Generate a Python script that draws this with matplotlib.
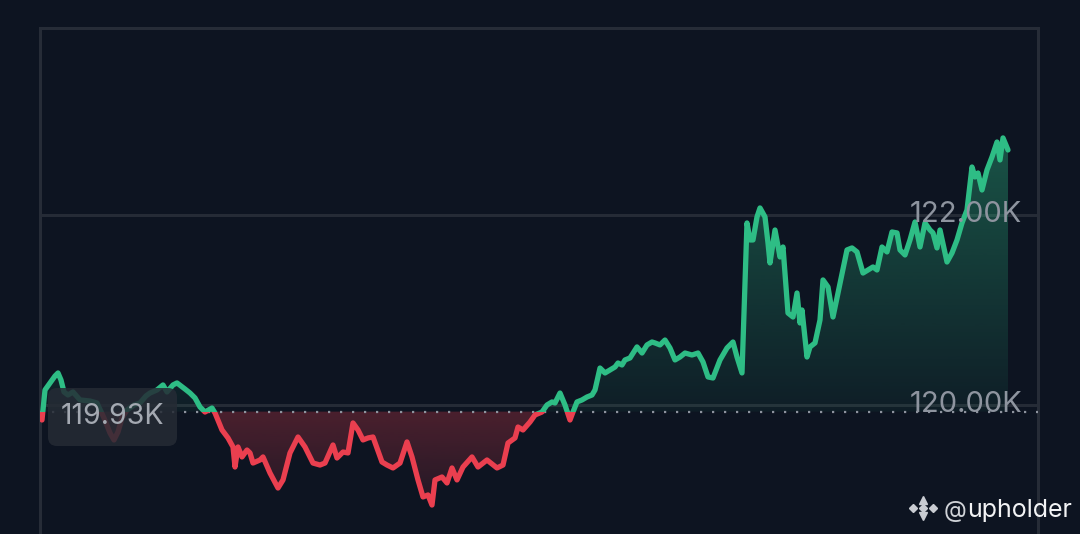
import numpy as np
import matplotlib
matplotlib.use("Agg")
import matplotlib.pyplot as plt
from matplotlib.path import Path
from matplotlib.patches import PathPatch, Rectangle, FancyBboxPatch
from matplotlib.lines import Line2D
from matplotlib.transforms import IdentityTransform

# minutes since start of window, price in thousands
minutes = [0, 3, 8, 13, 16, 19, 22, 26, 31, 38, 48, 55, 62, 68, 72, 76, 80, 85, 92, 98,
           104, 108, 115, 121, 125, 131, 135, 143, 148, 153, 158, 163, 170, 173, 180, 186,
           191, 193, 196, 200, 205, 208, 211, 218, 221, 228, 236, 241, 248, 256, 263, 271,
           278, 283, 291, 295, 301, 306, 311, 316, 321, 326, 331, 340, 345, 351, 358, 365,
           370, 376, 381, 386, 390, 393, 400, 405, 410, 415, 421, 430, 436, 445, 455, 461,
           466, 473, 476, 481, 488, 493, 500, 505, 510, 513, 518, 523, 528, 531, 535, 540,
           545, 550, 553, 558, 563, 568, 573, 576, 580, 583, 588, 595, 600, 605, 610, 613,
           618, 623, 628, 633, 638, 643, 650, 656, 661, 666, 671, 678, 685, 691, 695, 700,
           705, 708, 711, 715, 718, 723, 726, 728, 733, 738, 741, 746, 751, 755, 758, 760,
           765, 768, 773, 778, 781, 786, 791, 796, 805, 810, 815, 821, 826, 831, 835, 840,
           845, 850, 855, 858, 863, 868, 873, 878, 883, 888, 891, 895, 898, 905, 910, 915,
           920, 925, 930, 933, 936, 940, 945, 950, 955, 958, 961, 966]
price = [119.842, 120.158, 120.232, 120.305, 120.337, 120.263, 120.137, 120.105, 120.137,
         120.053, 120.042, 120.021, 119.863, 119.705, 119.632, 119.716, 119.863, 119.947,
         120.000, 120.021, 120.095, 120.126, 120.158, 120.211, 120.137, 120.211, 120.232,
         120.168, 120.126, 120.074, 119.979, 119.926, 119.968, 119.916, 119.737, 119.653,
         119.558, 119.347, 119.558, 119.453, 119.526, 119.495, 119.389, 119.421, 119.453,
         119.284, 119.126, 119.211, 119.495, 119.663, 119.558, 119.389, 119.368, 119.389,
         119.579, 119.442, 119.505, 119.495, 119.811, 119.737, 119.632, 119.653, 119.663,
         119.400, 119.368, 119.337, 119.389, 119.611, 119.453, 119.211, 119.032, 119.053,
         118.947, 119.211, 119.242, 119.179, 119.337, 119.211, 119.347, 119.453, 119.347,
         119.421, 119.337, 119.368, 119.600, 119.653, 119.768, 119.737, 119.821, 119.895,
         119.926, 120.000, 120.032, 120.021, 120.126, 120.000, 119.842, 119.926, 120.032,
         120.053, 120.084, 120.105, 120.158, 120.389, 120.337, 120.368, 120.400, 120.442,
         120.421, 120.474, 120.495, 120.611, 120.547, 120.632, 120.663, 120.653, 120.632,
         120.684, 120.600, 120.474, 120.505, 120.547, 120.526, 120.547, 120.453, 120.295,
         120.284, 120.474, 120.600, 120.663, 120.505, 120.337, 121.916, 121.737, 121.737,
         121.979, 122.074, 121.979, 121.705, 121.495, 121.842, 121.558, 121.663, 120.968,
         120.926, 121.179, 120.863, 121.000, 120.505, 120.611, 120.653, 120.895, 121.316,
         121.242, 120.926, 121.179, 121.632, 121.653, 121.611, 121.389, 121.421, 121.453,
         121.421, 121.663, 121.611, 121.821, 121.811, 121.632, 121.579, 121.737, 121.926,
         121.663, 121.916, 121.842, 121.811, 121.653, 121.842, 121.505, 121.600, 121.737,
         121.916, 122.053, 122.505, 122.400, 122.442, 122.263, 122.474, 122.611, 122.768,
         122.579, 122.811, 122.684]
open_price = 119.93
grid_levels = [120.0, 122.0]
grid_labels = ["120.00K", "122.00K"]
open_label = "119.93K"

bg = "#0d1421"
green = "#2ebd85"
red = "#ea3f4f"

t = np.array(minutes, dtype=float)
p = np.array(price)

fig = plt.figure(figsize=(10.8, 5.34), dpi=100, facecolor=bg)
ax = fig.add_axes([40 / 1080, 0, 998 / 1080, 506 / 534], facecolor=bg)
xmin, xmax = -2, 996
ymin, ymax = 118.642, 123.968

for s in ["top", "left", "right"]:
    ax.spines[s].set_color("#262c37")
    ax.spines[s].set_linewidth(2.2)
ax.spines["bottom"].set_visible(False)
ax.set_xticks([])
ax.set_yticks([])

for lv in grid_levels:
    ax.axhline(lv, color="#252b36", lw=2.2, zorder=1)

# gradient fills, clipped to the areas between the line and the open price
def grad_fill(mask, color, lo, hi, a_lo, a_hi):
    coll = ax.fill_between(t, p, open_price, where=mask, interpolate=True)
    path = Path.make_compound_path(*coll.get_paths())
    coll.remove()
    patch = PathPatch(path, transform=ax.transData, fc="none", ec="none")
    rgb = matplotlib.colors.to_rgb(color)
    img = np.zeros((256, 1, 4))
    img[:, 0, :3] = rgb
    img[:, 0, 3] = np.linspace(a_lo, a_hi, 256)
    im = ax.imshow(img, extent=[xmin, xmax, lo, hi], origin="lower",
                   aspect="auto", zorder=2, interpolation="bilinear")
    im.set_clip_path(patch)

grad_fill(p >= open_price, green, open_price, p.max(), 0.06, 0.38)
grad_fill(p <= open_price, red, p.min(), open_price, 0.10, 0.28)

ax.axhline(open_price, color="#8d939e", lw=1.6, ls=(0, (1, 4.4)), zorder=3)

up, = ax.plot(t, p, color=green, lw=3.8, zorder=4, solid_joinstyle="round",
              solid_capstyle="round")
up.set_clip_path(Rectangle((xmin, open_price), xmax - xmin, ymax - open_price,
                           transform=ax.transData))
dn, = ax.plot(t, p, color=red, lw=3.8, zorder=4, solid_joinstyle="round",
              solid_capstyle="round")
dn.set_clip_path(Rectangle((xmin, ymin), xmax - xmin, open_price - ymin,
                           transform=ax.transData))

ax.set_xlim(xmin, xmax)
ax.set_ylim(ymin, ymax)

for lv, lab in zip(grid_levels, grid_labels):
    ax.text(0.984, lv, lab, transform=ax.get_yaxis_transform(), ha="right",
            va="center", fontsize=21, color="#8e949f", family="Inter", zorder=6)

# open price badge
fig.add_artist(FancyBboxPatch((48, 88), 129, 58, boxstyle="round,pad=0,rounding_size=9",
                              transform=IdentityTransform(), fc="#252b35", ec="none",
                              alpha=0.85, zorder=5))
fig.text(112 / 1080, 117 / 534, open_label, ha="center", va="center", fontsize=20.5,
         color="#a4a9b2", family="Inter", zorder=6)

# watermark
logo_col = "#c9ccd2"
for (lx, ly, m, ms) in [(913, 26, "D", 4), (933, 26, "D", 4), (923, 26, "D", 4.5),
                        (923, 34, "^", 6), (923, 18, "v", 6)]:
    fig.add_artist(Line2D([lx], [ly], marker=m, ms=ms, color=logo_col, lw=0,
                          transform=IdentityTransform()))
fig.text(944 / 1080, 17 / 534, "@", ha="left", va="baseline", fontsize=17,
         color="#d0d3d8", family="Inter")
fig.text(1072 / 1080, 17 / 534, "upholder", ha="right", va="baseline", fontsize=18,
         color="#f2f3f5", family="Inter")

fig.savefig("out.png", dpi=100, facecolor=bg)
